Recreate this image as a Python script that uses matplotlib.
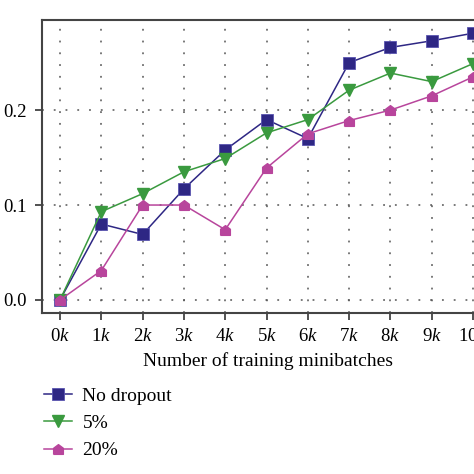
import matplotlib
matplotlib.use("Agg")
import matplotlib.pyplot as plt

plt.rcParams['font.family'] = 'Liberation Serif'
plt.rcParams['mathtext.fontset'] = 'custom'
plt.rcParams['mathtext.rm'] = 'Liberation Serif'
plt.rcParams['mathtext.it'] = 'Liberation Serif:italic'

steps = [0, 1, 2, 3, 4, 5, 6, 7, 8, 9, 10]
tick_labels = [r'$%dk$' % s for s in steps]
no_dropout = [0.0, 0.080, 0.069, 0.117, 0.158, 0.190, 0.170, 0.250, 0.266, 0.273, 0.281]
drop_5 = [0.0, 0.093, 0.112, 0.135, 0.149, 0.176, 0.190, 0.221, 0.239, 0.230, 0.249]
drop_20 = [0.0, 0.031, 0.100, 0.100, 0.074, 0.139, 0.175, 0.189, 0.200, 0.215, 0.235]

house = [(-1, -1), (1, -1), (1, 0.25), (0, 1), (-1, 0.25), (-1, -1)]

fig = plt.figure(figsize=(4.74, 4.74), dpi=100)
ax = fig.add_axes([0.0886, 0.3397, 0.953, 0.6183])

l1, = ax.plot(steps, no_dropout, color='#2e2784', marker='s', markersize=9, lw=1.1,
              markerfacecolor='#2e2784', markeredgecolor='#5a55b0', markeredgewidth=0.6)
l2, = ax.plot(steps, drop_5, color='#3a9a3f', marker='v', markersize=8.5, lw=1.1)
l3, = ax.plot(steps, drop_20, color='#b8459c', marker=house, markersize=7, lw=1.1)

ax.set_xlim(-0.436, 10.5)
ax.set_ylim(-0.0137, 0.295)
ax.set_xticks(steps)
ax.set_xticklabels(tick_labels)
ax.set_yticks([0.0, 0.1, 0.2])
ax.set_yticklabels(['0.0', '0.1', '0.2'])
ax.tick_params(direction='out', length=5, width=1.2, color='#333333', labelsize=13.5, pad=6)
ax.grid(True, linestyle=(0, (1.2, 6.5)), color='#555555', linewidth=1.1)
for side in ['left', 'top', 'bottom']:
    ax.spines[side].set_color('#444444')
    ax.spines[side].set_linewidth(1.5)
ax.spines['right'].set_visible(False)
ax.set_xlabel('Number of training minibatches', fontsize=14, labelpad=5)

fig.legend([l1, l2, l3], ['No dropout', '5%', '20%'], loc='upper left',
           bbox_to_anchor=(0.055, 0.22), frameon=False, fontsize=14,
           handlelength=1.45, labelspacing=0.5, handletextpad=0.55)

fig.savefig('out.png', dpi=100)
